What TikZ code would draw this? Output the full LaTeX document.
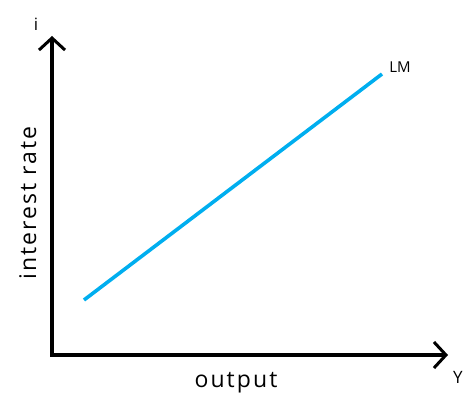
\documentclass[tikz,border=0pt]{standalone}
\usepackage{fontspec}
\setmainfont{Open Sans}
\newfontfamily\lblfont[LetterSpace=9]{Open Sans}
\usetikzlibrary{arrows.meta}
\definecolor{lmblue}{RGB}{0,174,239}
\begin{document}
\begin{tikzpicture}[x=1pt,y=-1pt,
  axis/.style={line width=3.6pt,-{Straight Barb[length=12pt,width=26pt,line width=3pt]}},
  lbl/.style={inner sep=0pt},
  big/.style={inner sep=0pt,anchor=base,font=\lblfont\fontsize{23}{28}\selectfont},
  curve/.style={line width=3.6pt,lmblue}]
\useasboundingbox (0,0) rectangle (474,403);
\coordinate (o) at (52,355);
\coordinate (ytop) at (52,36);
\coordinate (xend) at (448,355);
\draw[axis] (52,356.8) -- (ytop);
\draw[axis] (50.2,355) -- (xend);
\coordinate (a) at (84,300);
\coordinate (b) at (382,74);
\draw[curve] (a) -- (b);
\node[lbl,font=\fontsize{17}{20}\selectfont] (i) at (36,24) {i};
\node[lbl,font=\fontsize{17}{20}\selectfont] (Y) at (458,377) {Y};
\node[lbl,font=\fontsize{15}{18}\selectfont] (LM) at (400,67) {LM};
\node[big] (out) at (236,387) {output};
\node[big,rotate=90] (ir) at (36,203) {interest rate};
\end{tikzpicture}
\end{document}
